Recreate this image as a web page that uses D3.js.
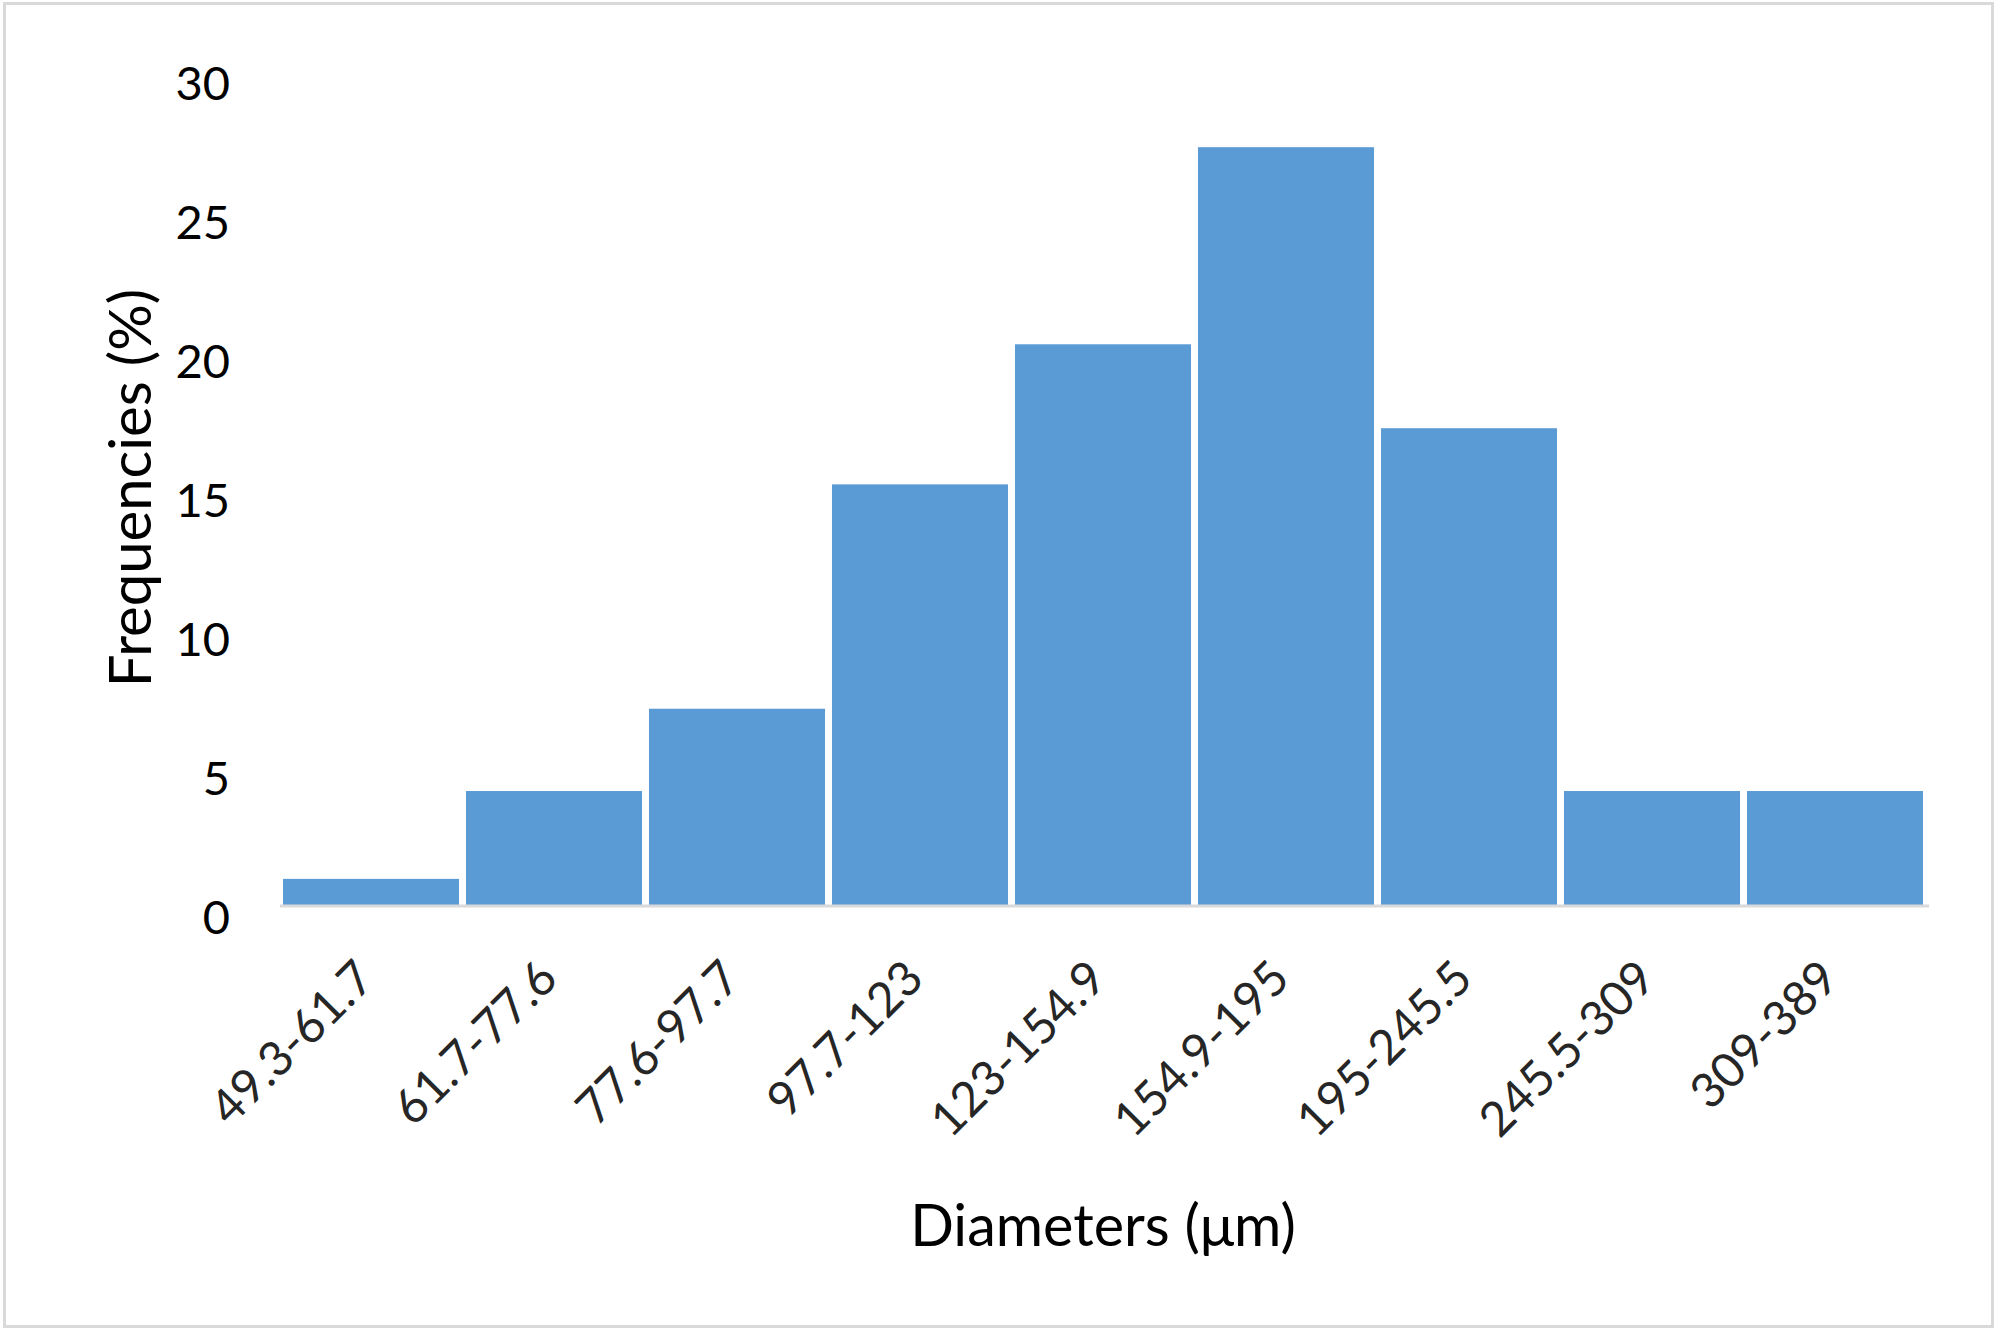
<!DOCTYPE html>
<html>
<head>
<meta charset="utf-8">
<script src="https://cdn.jsdelivr.net/npm/d3@7"></script>
<style>
  body { margin: 0; background: #fff; }
  .chart text { font-family: Lato, "Open Sans", sans-serif; }
</style>
</head>
<body>
<div class="chart"></div>
<script>
const categories = ["49.3-61.7", "61.7-77.6", "77.6-97.7", "97.7-123", "123-154.9",
                    "154.9-195", "195-245.5", "245.5-309", "309-389"];
const frequencies = [0.94, 4.1, 7.06, 15.13, 20.17, 27.26, 17.15, 4.1, 4.1];
const yTicks = [0, 5, 10, 15, 20, 25, 30];

const width = 1999;
const height = 1332;

const svg = d3.select(".chart")
  .append("svg")
  .attr("width", width)
  .attr("height", height);

// outer frame
svg.append("rect")
  .attr("x", 4.5)
  .attr("y", 3.5)
  .attr("width", 1988)
  .attr("height", 1323)
  .attr("fill", "none")
  .attr("stroke", "#d9d9d9")
  .attr("stroke-width", 3);

const xScale = d3.scaleBand()
  .domain(categories)
  .range([279.5, 1926.5])
  .paddingInner(0.038)
  .paddingOuter(0.019);

const yScale = d3.scaleLinear()
  .domain([0, 30])
  .range([905, 71]);

svg.append("g")
  .selectAll("rect")
  .data(frequencies)
  .join("rect")
  .attr("x", (d, i) => xScale(categories[i]))
  .attr("y", d => yScale(d))
  .attr("width", xScale.bandwidth())
  .attr("height", d => yScale(0) - yScale(d))
  .attr("fill", "#5b9bd5");

// y axis: labels only
const yAxis = d3.axisLeft(yScale).tickValues(yTicks).tickSize(0).tickPadding(50);
const yG = svg.append("g")
  .attr("transform", "translate(280, 0)")
  .call(yAxis);
yG.select(".domain").remove();
yG.selectAll("text")
  .attr("dy", null)
  .attr("y", 28)
  .attr("font-size", 47)
  .attr("fill", "#000");

// x axis
const xAxis = d3.axisBottom(xScale).tickSize(0);
const xG = svg.append("g")
  .attr("transform", "translate(0, 905)")
  .call(xAxis);
xG.select(".domain").remove();
xG.selectAll("text")
  .attr("y", 0)
  .attr("dy", null)
  .attr("text-anchor", "end")
  .attr("transform", "translate(6, 76) rotate(-45)")
  .attr("font-size", 48)
  .attr("fill", "#262626");

svg.append("line")
  .attr("x1", 280)
  .attr("x2", 1929)
  .attr("y1", 906)
  .attr("y2", 906)
  .attr("stroke", "#d9d9d9")
  .attr("stroke-width", 3);

// axis titles
svg.append("text")
  .attr("x", 1103)
  .attr("y", 1246)
  .attr("text-anchor", "middle")
  .attr("font-size", 57.5)
  .attr("fill", "#000")
  .text("Diameters (μm)");

svg.append("text")
  .attr("transform", "translate(151, 488) rotate(-90)")
  .attr("text-anchor", "middle")
  .attr("font-size", 58)
  .attr("fill", "#000")
  .text("Frequencies (%)");
</script>
</body>
</html>
